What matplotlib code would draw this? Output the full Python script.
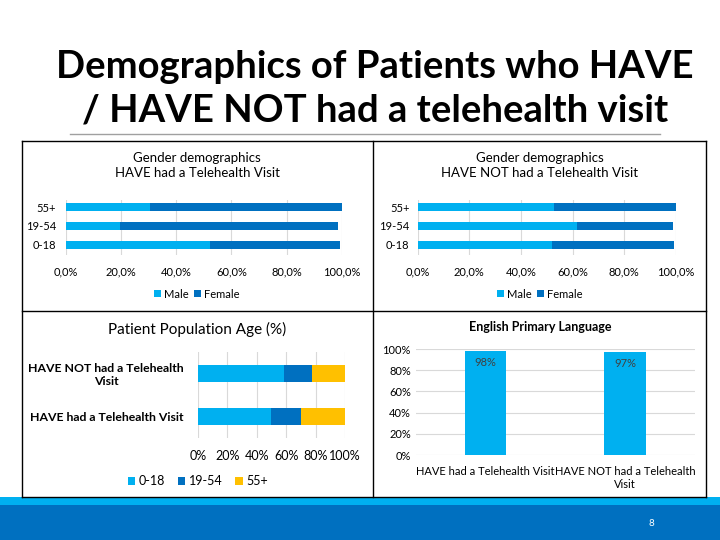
import numpy as np
import matplotlib.pyplot as plt
from matplotlib.patches import Rectangle
from matplotlib.lines import Line2D
from matplotlib.ticker import FuncFormatter

plt.rcParams['font.family'] = ['Lato', 'DejaVu Sans']

LIGHT = '#00B0F0'
DARK = '#0070C0'
YELLOW = '#FFC000'
GRID = '#D9D9D9'

# gender demographics (% of each age group)
age_groups = ['0-18', '19-54', '55+']
have_male = [52.3, 19.7, 30.6]
have_female = [47.1, 79.0, 69.4]
havenot_male = [51.9, 61.5, 52.6]
havenot_female = [47.3, 37.2, 47.4]

# patient population age (%)
pop_groups = ['HAVE had a Telehealth Visit', 'HAVE NOT had a Telehealth\nVisit']
pop_0_18 = [49.5, 58.8]
pop_19_54 = [20.6, 18.6]
pop_55 = [29.9, 22.6]

# english primary language
lang_groups = ['HAVE had a Telehealth Visit', 'HAVE NOT had a Telehealth\nVisit']
lang_pct = [0.98, 0.97]

W, H = 720, 540
fig = plt.figure(figsize=(7.2, 5.4), dpi=100)


def rect(x0, y0, x1, y1):
    return [x0 / W, 1 - y1 / H, (x1 - x0) / W, (y1 - y0) / H]


def fy(y):
    return 1 - y / H


def fx(x):
    return x / W


# title
fig.text(fx(375), fy(67), 'Demographics of Patients who HAVE', ha='center', va='center',
         fontsize=27.5, fontweight='bold')
fig.text(fx(375), fy(110), '/ HAVE NOT had a telehealth visit', ha='center', va='center',
         fontsize=27.5, fontweight='bold')
fig.add_artist(Line2D([fx(70), fx(660)], [fy(134), fy(134)], color='#A0A0A0', lw=1))

# panel borders
for xs, ys in [([21.5, 706], [141, 141]), ([21.5, 706], [497, 497]), ([21.5, 21.5], [141, 497]),
               ([706, 706], [141, 497]), ([372.5, 372.5], [141, 497]), ([21.5, 706], [311, 311])]:
    fig.add_artist(Line2D([fx(x) for x in xs], [fy(y) for y in ys], color='black', lw=1))

# footer
fig.add_artist(Rectangle((0, 0), 1, fy(505), transform=fig.transFigure, color=DARK, lw=0))
fig.add_artist(Rectangle((0, fy(505)), 1, fy(497) - fy(505), transform=fig.transFigure,
                         color=LIGHT, lw=0))
fig.text(fx(651), fy(523), '8', color='white', fontsize=7, ha='center', va='center')

pct1 = FuncFormatter(lambda v, p: f'{v:.1f}%'.replace('.', ','))
pct0 = FuncFormatter(lambda v, p: f'{v:.0f}%')


def gender_panel(x0, x1, male, female, title, cx, ypad):
    ax = fig.add_axes(rect(x0, 200, x1, 255))
    y = np.arange(len(age_groups))
    ax.barh(y, male, height=0.4, color=LIGHT, label='Male')
    ax.barh(y, female, left=male, height=0.4, color=DARK, label='Female')
    ax.set_xlim(0, 100)
    ax.set_ylim(-0.53, 2.37)
    ax.set_yticks(y, age_groups)
    ax.set_xticks(np.arange(0, 101, 20))
    ax.xaxis.set_major_formatter(pct1)
    ax.tick_params(length=0, labelsize=8)
    ax.tick_params(axis='x', pad=8)
    ax.tick_params(axis='y', pad=ypad)
    ax.grid(axis='x', color=GRID, lw=0.8)
    ax.set_axisbelow(True)
    for s in ax.spines.values():
        s.set_visible(False)
    fig.text(fx(cx), fy(166), title, ha='center', va='center', fontsize=9.5, linespacing=1.3)
    fig.legend(*ax.get_legend_handles_labels(), loc='center', bbox_to_anchor=(fx(cx), fy(294)),
               ncol=2, frameon=False, fontsize=8, handlelength=0.6, handleheight=0.6,
               handletextpad=0.3, columnspacing=0.5)


gender_panel(65.7, 342, have_male, have_female,
             'Gender demographics\nHAVE had a Telehealth Visit', 197, 7)
gender_panel(417.7, 676, havenot_male, havenot_female,
             'Gender demographics\nHAVE NOT had a Telehealth Visit', 540, 6)

# patient population age
ax = fig.add_axes(rect(197.7, 352, 345, 438))
y = np.arange(len(pop_groups))
a = np.array(pop_0_18)
b = np.array(pop_19_54)
c = np.array(pop_55)
ax.barh(y, a, height=0.4, color=LIGHT, label='0-18')
ax.barh(y, b, left=a, height=0.4, color=DARK, label='19-54')
ax.barh(y, c, left=a + b, height=0.4, color=YELLOW, label='55+')
ax.set_xlim(0, 100)
ax.set_ylim(-0.5, 1.5)
ax.set_yticks(y, pop_groups)
for t in ax.get_yticklabels():
    t.set_multialignment('center')
    t.set_fontweight('bold')
    t.set_fontsize(8.85)
ax.set_xticks(np.arange(0, 101, 20))
ax.xaxis.set_major_formatter(pct0)
ax.tick_params(axis='x', length=0, labelsize=9, pad=9)
ax.tick_params(axis='y', length=0, pad=10)
ax.grid(axis='x', color=GRID, lw=0.8)
ax.set_axisbelow(True)
for s in ax.spines.values():
    s.set_visible(False)
fig.text(fx(197), fy(329), 'Patient Population Age (%)', ha='center', va='center', fontsize=11)
fig.legend(*ax.get_legend_handles_labels(), loc='center', bbox_to_anchor=(fx(198), fy(481)),
           ncol=3, frameon=False, fontsize=9, handlelength=0.6, handleheight=0.6,
           handletextpad=0.3, columnspacing=1.0)

# english primary language
ax = fig.add_axes(rect(415.7, 349, 695, 455))
x = np.arange(len(lang_groups))
bars = ax.bar(x, lang_pct, width=0.3, color=LIGHT)
ax.set_xlim(-0.5, 1.5)
ax.set_ylim(0, 1)
ax.set_yticks(np.arange(0, 1.01, 0.2))
ax.yaxis.set_major_formatter(FuncFormatter(lambda v, p: f'{v * 100:.0f}%'))
ax.set_xticks(x, lang_groups)
ax.tick_params(length=0, labelsize=8)
ax.tick_params(axis='x', pad=8)
ax.grid(axis='y', color=GRID, lw=0.8)
ax.set_axisbelow(True)
for s in ax.spines.values():
    s.set_visible(False)
for xi, v in zip(x, lang_pct):
    ax.annotate(f'{v * 100:.0f}%', (xi, v), xytext=(0, -8), textcoords='offset points',
                ha='center', va='center', fontsize=8, color='#404040')
fig.text(fx(540), fy(327), 'English Primary Language', ha='center', va='center',
         fontsize=9, fontweight='bold')

fig.savefig('out.png', dpi=100)
